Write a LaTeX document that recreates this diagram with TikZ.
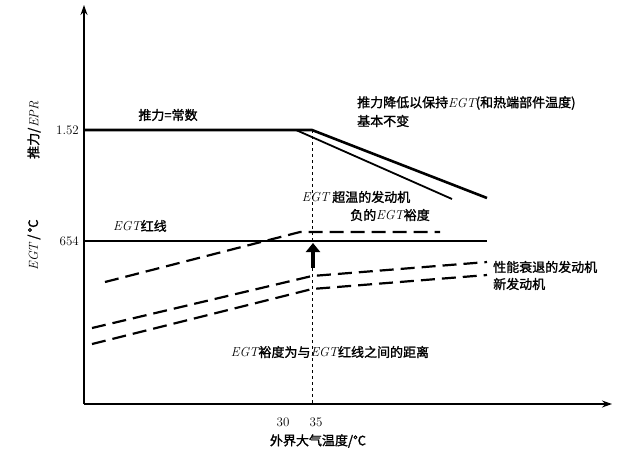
\documentclass[tikz,border=0pt]{standalone}
\usepackage{fontspec}
\newfontfamily\cjk[FakeBold=1.5]{Noto Sans CJK SC}
\usetikzlibrary{arrows.meta}
\begin{document}
\begin{tikzpicture}[x=1pt,y=-1pt,font=\fontsize{13}{15}\selectfont\cjk,
  thick line/.style={line width=2.6pt},
  dash line/.style={line width=2.2pt,dash pattern=on 14pt off 7pt},
  lbl/.style={inner sep=1pt}]
\useasboundingbox (0,0) rectangle (631,464);
% axes
\coordinate (O) at (84,404);
\coordinate (Ytop) at (84,5);
\coordinate (Xend) at (612,404);
\draw[line width=1.4pt,-{Stealth[length=10pt,width=7pt]}] (O) -- (Ytop);
\draw[line width=1.4pt,-{Stealth[length=10pt,width=7pt]}] (O) -- (Xend);
% y labels
\node[lbl,anchor=east] (y152) at (80,130) {\rmfamily 1.52};
\node[lbl,anchor=east] (y654) at (80,241) {\rmfamily 654};
\node[lbl,rotate=90] (ylab1) at (34,130) {推力/\textit{\rmfamily EPR}};
\node[lbl,rotate=90] (ylab2) at (34,245) {\textit{\rmfamily EGT}\,/\,℃};
% x labels
\node[lbl] (x30) at (283,422) {\rmfamily 30};
\node[lbl] (x35) at (316,422) {\rmfamily 35};
\node[lbl] (xlab) at (318,441) {外界大气温度/℃};
% thrust
\coordinate (t0) at (84,130);
\coordinate (t1) at (312,130);
\coordinate (t2) at (487,198);
\coordinate (s0) at (296,130);
\coordinate (s1) at (452,199);
\draw[thick line] (t0) -- (t1) -- (t2);
\draw[line width=1.8pt] (s0) -- (s1);
\node[lbl] (tc) at (168,115) {推力=常数};
\node[lbl,anchor=west] (tr1) at (356,103) {推力降低以保持{\rmfamily\itshape EGT}(和热端部件温度)};
\node[lbl,anchor=west] (tr2) at (356,121) {基本不变};
% red line
\coordinate (r0) at (84,241);
\coordinate (r1) at (487,241);
\draw[thick line] (r0) -- (r1);
\node[lbl] (rl) at (140,226) {{\rmfamily\itshape EGT}红线};
% vertical dashed
\coordinate (v0) at (312,130);
\coordinate (v1) at (312,404);
\draw[dashed,line width=0.6pt] (v0) -- (v1);
% dashed curves
\coordinate (a0) at (105,282); \coordinate (a1) at (300,232); \coordinate (a2) at (440,232);
\draw[dash line] (a0) -- (a1) -- (a2);
\coordinate (b0) at (92,328); \coordinate (b1) at (312,276); \coordinate (b2) at (487,262);
\draw[dash line] (b0) -- (b1) -- (b2);
\coordinate (c0) at (92,344); \coordinate (c1) at (312,289); \coordinate (c2) at (487,275);
\draw[dash line] (c0) -- (c1) -- (c2);
% arrow
\coordinate (ar0) at (313,268); \coordinate (ar1) at (313,243);
\draw[line width=4.5pt,-{Triangle[length=9pt,width=14pt]}] (ar0) -- (ar1);
% labels
\node[lbl] (ov) at (356,197) {{\rmfamily\itshape EGT} 超温的发动机};
\node[lbl] (neg) at (390,215) {负的{\rmfamily\itshape EGT}裕度};
\node[lbl,anchor=west] (deg) at (492,267) {性能衰退的发动机};
\node[lbl,anchor=west] (new) at (492,284) {新发动机};
\node[lbl] (mg) at (330,352) {{\rmfamily\itshape EGT}裕度为与{\rmfamily\itshape EGT}红线之间的距离};
\end{tikzpicture}
\end{document}
